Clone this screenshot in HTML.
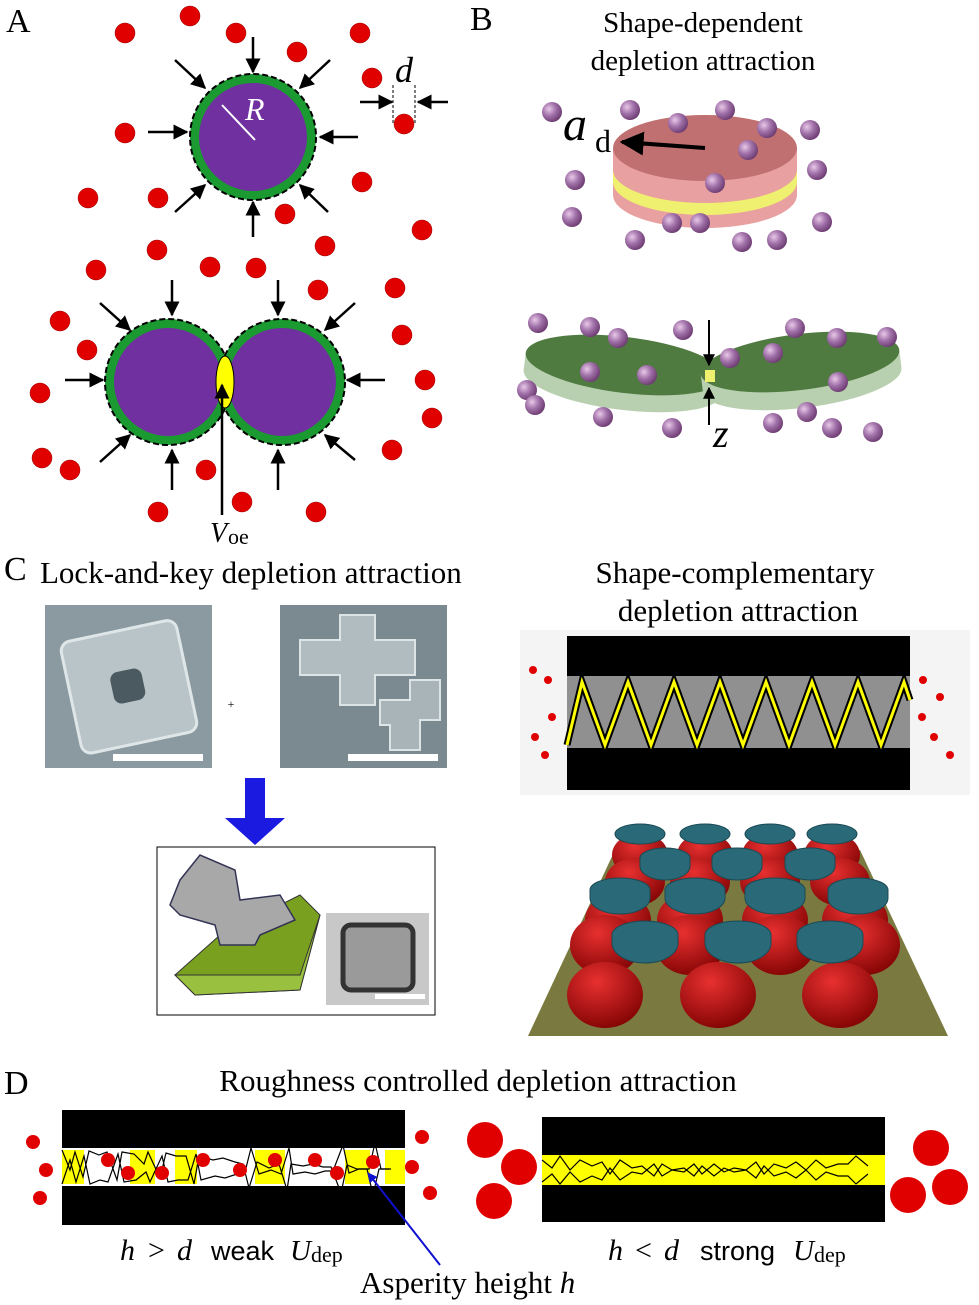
<!DOCTYPE html>
<html><head><meta charset="utf-8"><style>
html,body{margin:0;padding:0;background:#fff}
svg{display:block}
text{font-family:"Liberation Serif",serif;fill:#000}
</style></head><body>
<svg width="979" height="1305" viewBox="0 0 979 1305" xmlns="http://www.w3.org/2000/svg">
<defs>
<marker id="ah" viewBox="0 0 10 10" refX="9" refY="5" markerWidth="6" markerHeight="6" orient="auto"><path d="M0,0L10,5L0,10z" fill="#000"/></marker>
<marker id="ahb" viewBox="0 0 10 10" refX="9" refY="5" markerWidth="5" markerHeight="5" orient="auto"><path d="M0,0L10,5L0,10z" fill="#1010d0"/></marker>
<radialGradient id="pb" cx="0.35" cy="0.35" r="0.7"><stop offset="0" stop-color="#e8c8e8"/><stop offset="0.5" stop-color="#a070a8"/><stop offset="1" stop-color="#6a3a70"/></radialGradient>
<radialGradient id="rh" cx="0.4" cy="0.3" r="0.8"><stop offset="0" stop-color="#e83030"/><stop offset="1" stop-color="#7a0000"/></radialGradient>
</defs>

<!-- Panel A -->
<text x="6" y="32" font-size="34">A</text>
<g fill="#e00000" stroke="#900" stroke-width="0.5">
<circle cx="125" cy="33" r="10"/><circle cx="190" cy="16" r="10"/><circle cx="236" cy="33" r="10"/><circle cx="297" cy="52" r="10"/><circle cx="360" cy="33" r="10"/><circle cx="372" cy="78" r="10"/><circle cx="404" cy="124" r="10"/><circle cx="125" cy="133" r="10"/><circle cx="88" cy="198" r="10"/><circle cx="158" cy="198" r="10"/><circle cx="285" cy="214" r="10"/><circle cx="362" cy="182" r="10"/><circle cx="422" cy="230" r="10"/><circle cx="157" cy="250" r="10"/><circle cx="210" cy="267" r="10"/><circle cx="256" cy="268" r="10"/><circle cx="325" cy="246" r="10"/><circle cx="96" cy="270" r="10"/><circle cx="318" cy="290" r="10"/><circle cx="395" cy="288" r="10"/><circle cx="60" cy="321" r="10"/><circle cx="87" cy="350" r="10"/><circle cx="402" cy="335" r="10"/><circle cx="40" cy="393" r="10"/><circle cx="425" cy="380" r="10"/><circle cx="432" cy="418" r="10"/><circle cx="42" cy="458" r="10"/><circle cx="70" cy="470" r="10"/><circle cx="206" cy="470" r="10"/><circle cx="392" cy="450" r="10"/><circle cx="158" cy="512" r="10"/><circle cx="242" cy="502" r="10"/><circle cx="316" cy="512" r="10"/>
</g>
<circle cx="253" cy="137" r="63" fill="#1a9a30" stroke="#000" stroke-width="2" stroke-dasharray="6,3"/>
<circle cx="253" cy="137" r="54" fill="#7030a0"/>
<line x1="222" y1="105" x2="255" y2="140" stroke="#fff" stroke-width="2"/>
<text x="245" y="120" font-size="32" font-style="italic" style="fill:#fff">R</text>
<g stroke="#000" stroke-width="2.5" marker-end="url(#ah)">
<line x1="253" y1="37" x2="253" y2="72"/><line x1="253" y1="237" x2="253" y2="202"/>
<line x1="148" y1="132" x2="187" y2="132"/><line x1="358" y1="137" x2="320" y2="137"/>
<line x1="175" y1="60" x2="205" y2="88"/><line x1="330" y1="60" x2="300" y2="88"/>
<line x1="175" y1="212" x2="205" y2="185"/><line x1="328" y1="212" x2="300" y2="185"/>
<line x1="360" y1="102" x2="392" y2="102"/><line x1="448" y1="102" x2="418" y2="102"/>
</g>
<line x1="393" y1="85" x2="393" y2="125" stroke="#000" stroke-dasharray="3,2"/>
<line x1="415" y1="85" x2="415" y2="125" stroke="#000" stroke-dasharray="3,2"/>
<text x="395" y="82" font-size="36" font-style="italic">d</text>

<circle cx="168" cy="382" r="63" fill="#1a9a30" stroke="#000" stroke-width="2" stroke-dasharray="6,3"/>
<circle cx="282" cy="382" r="63" fill="#1a9a30" stroke="#000" stroke-width="2" stroke-dasharray="6,3"/>
<circle cx="168" cy="382" r="54" fill="#7030a0"/>
<circle cx="282" cy="382" r="54" fill="#7030a0"/>
<ellipse cx="225" cy="382" rx="9" ry="26" fill="#ffff00" stroke="#000"/>
<g stroke="#000" stroke-width="2.5" marker-end="url(#ah)">
<line x1="172" y1="280" x2="172" y2="315"/><line x1="278" y1="280" x2="278" y2="315"/>
<line x1="172" y1="490" x2="172" y2="450"/><line x1="278" y1="490" x2="278" y2="450"/>
<line x1="65" y1="380" x2="103" y2="380"/><line x1="385" y1="380" x2="347" y2="380"/>
<line x1="100" y1="303" x2="130" y2="330"/><line x1="355" y1="303" x2="325" y2="330"/>
<line x1="100" y1="462" x2="130" y2="435"/><line x1="355" y1="460" x2="325" y2="435"/>
<line x1="222" y1="515" x2="222" y2="385"/>
</g>
<text x="210" y="542" font-size="28" font-style="italic">V</text><text x="228" y="544" font-size="22">oe</text>

<!-- Panel B -->
<text x="470" y="30" font-size="34">B</text>
<text x="703" y="32" font-size="29" text-anchor="middle">Shape-dependent</text>
<text x="703" y="70" font-size="29" text-anchor="middle">depletion attraction</text>
<path d="M613,148 L613,195 A92,33 0 0 0 797,195 L797,148 Z" fill="#e8a0a0"/>
<path d="M613,170 L613,182 A92,33 0 0 0 797,182 L797,170 A92,33 0 0 1 613,170Z" fill="#f0f070"/>
<ellipse cx="705" cy="148" rx="92" ry="33" fill="#c07070"/>
<line x1="705" y1="148" x2="622" y2="142" stroke="#000" stroke-width="4" marker-end="url(#ah)"/>
<text x="563" y="140" font-size="48" font-style="italic">a</text><text x="595" y="152" font-size="32">d</text>
<g transform="rotate(7 625 365)"><path d="M525,365 L525,382 A100,28 0 0 0 725,382 L725,365Z" fill="#b8d0b0"/><ellipse cx="625" cy="365" rx="100" ry="28" fill="#4f7a40"/></g>
<g transform="rotate(-7 800 362)"><path d="M700,362 L700,380 A100,28 0 0 0 900,380 L900,362Z" fill="#b8d0b0"/><ellipse cx="800" cy="362" rx="100" ry="28" fill="#4f7a40"/></g>
<rect x="705" y="370" width="10" height="12" fill="#f0f070"/>
<line x1="709" y1="320" x2="709" y2="365" stroke="#000" stroke-width="2" marker-end="url(#ah)"/>
<line x1="709" y1="425" x2="709" y2="388" stroke="#000" stroke-width="2" marker-end="url(#ah)"/>
<text x="713" y="447" font-size="40" font-style="italic">z</text>
<g fill="url(#pb)">
<circle cx="552" cy="112" r="10"/><circle cx="630" cy="110" r="10"/><circle cx="678" cy="123" r="10"/><circle cx="725" cy="110" r="10"/><circle cx="767" cy="128" r="10"/><circle cx="810" cy="130" r="10"/><circle cx="748" cy="150" r="10"/><circle cx="575" cy="180" r="10"/><circle cx="715" cy="183" r="10"/><circle cx="817" cy="170" r="10"/><circle cx="572" cy="217" r="10"/><circle cx="672" cy="223" r="10"/><circle cx="700" cy="223" r="10"/><circle cx="635" cy="240" r="10"/><circle cx="742" cy="242" r="10"/><circle cx="777" cy="240" r="10"/><circle cx="822" cy="222" r="10"/>
<circle cx="538" cy="323" r="10"/><circle cx="590" cy="327" r="10"/><circle cx="618" cy="338" r="10"/><circle cx="683" cy="330" r="10"/><circle cx="795" cy="328" r="10"/><circle cx="837" cy="338" r="10"/><circle cx="887" cy="337" r="10"/><circle cx="590" cy="372" r="10"/><circle cx="647" cy="375" r="10"/><circle cx="730" cy="358" r="10"/><circle cx="773" cy="353" r="10"/><circle cx="838" cy="382" r="10"/><circle cx="527" cy="390" r="10"/><circle cx="535" cy="405" r="10"/><circle cx="603" cy="417" r="10"/><circle cx="672" cy="428" r="10"/><circle cx="773" cy="423" r="10"/><circle cx="807" cy="412" r="10"/><circle cx="832" cy="428" r="10"/><circle cx="873" cy="432" r="10"/>
</g>

<!-- Panel C -->
<text x="4" y="580" font-size="34">C</text>
<text x="40" y="583" font-size="31">Lock-and-key depletion attraction</text>
<rect x="45" y="605" width="167" height="163" fill="#8a9aa0"/>
<g transform="rotate(-12 128 687)"><rect x="70" y="630" width="118" height="114" rx="10" fill="#b8c4c8" stroke="#dfe6e8" stroke-width="3"/><rect x="112" y="670" width="32" height="32" rx="8" fill="#4a5a60"/></g>
<rect x="113" y="754" width="90" height="7" fill="#fff"/>
<rect x="280" y="605" width="167" height="163" fill="#7a8a90"/>
<path d="M300,640 h40 v-25 h35 v25 h40 v35 h-40 v30 h-35 v-30 h-40z" fill="#b0bcc0" stroke="#dde4e6" stroke-width="2"/>
<path d="M380,700 h30 v-20 h30 v40 h-20 v30 h-30 v-25 h-10z" fill="#a8b4b8" stroke="#dde4e6" stroke-width="2"/>
<rect x="348" y="754" width="90" height="7" fill="#fff"/>
<text x="231" y="708" font-size="12" text-anchor="middle">+</text>
<rect x="245" y="778" width="20" height="42" fill="#1a1ae0"/>
<path d="M225,818 L285,818 L255,845Z" fill="#1a1ae0"/>
<rect x="157" y="847" width="278" height="168" fill="#fff" stroke="#000"/>
<path d="M175,975 L195,995 L300,990 L320,915 L300,895 L220,935Z" fill="#7aa020" stroke="#333"/>
<path d="M175,975 L300,975 L320,915 L300,990 L195,995Z" fill="#9ac040" stroke="#333"/>
<path d="M180,880 L200,855 L235,870 L240,900 L280,895 L295,920 L260,935 L255,945 L220,945 L215,925 L180,915 L170,905Z" fill="#a8a8a8" stroke="#335" stroke-width="1.5"/>
<rect x="326" y="913" width="103" height="92" fill="#c8c8c8"/>
<rect x="343" y="925" width="70" height="65" rx="8" fill="#9a9a9a" stroke="#333" stroke-width="5"/>
<rect x="375" y="994" width="50" height="5" fill="#fff"/>

<text x="735" y="583" font-size="31" text-anchor="middle">Shape-complementary</text>
<text x="738" y="621" font-size="31" text-anchor="middle">depletion attraction</text>
<rect x="520" y="630" width="450" height="165" fill="#f4f4f4"/>
<rect x="567" y="636" width="343" height="154" fill="#000"/>
<rect x="567" y="676" width="343" height="72" fill="#909090"/>
<polyline points="567,745 582,682 605,745 628,682 651,745 674,682 697,745 720,682 743,745 766,682 789,745 812,682 835,745 858,682 881,745 904,682 910,700" fill="none" stroke="#000" stroke-width="7"/>
<polyline points="567,745 582,682 605,745 628,682 651,745 674,682 697,745 720,682 743,745 766,682 789,745 812,682 835,745 858,682 881,745 904,682 910,700" fill="none" stroke="#ffff00" stroke-width="3"/>
<g fill="#e00000"><circle cx="533" cy="670" r="4"/><circle cx="548" cy="680" r="4"/><circle cx="552" cy="717" r="4"/><circle cx="535" cy="737" r="4"/><circle cx="545" cy="755" r="4"/><circle cx="923" cy="680" r="4"/><circle cx="940" cy="697" r="4"/><circle cx="922" cy="717" r="4"/><circle cx="934" cy="737" r="4"/><circle cx="950" cy="755" r="4"/></g>
<path d="M528,1036 L948,1036 L860,850 L615,850Z" fill="#7a7a40"/>
<g fill="url(#rh)">
<ellipse cx="640" cy="855" rx="28" ry="22"/><ellipse cx="705" cy="855" rx="28" ry="22"/><ellipse cx="770" cy="855" rx="28" ry="22"/><ellipse cx="832" cy="855" rx="28" ry="22"/>
<ellipse cx="635" cy="882" rx="30" ry="24"/><ellipse cx="700" cy="882" rx="30" ry="24"/><ellipse cx="770" cy="882" rx="30" ry="24"/><ellipse cx="840" cy="882" rx="30" ry="24"/>
<ellipse cx="618" cy="920" rx="33" ry="27"/><ellipse cx="690" cy="920" rx="33" ry="27"/><ellipse cx="775" cy="920" rx="33" ry="27"/><ellipse cx="855" cy="920" rx="33" ry="27"/>
<ellipse cx="605" cy="945" rx="35" ry="30"/><ellipse cx="690" cy="945" rx="35" ry="30"/><ellipse cx="780" cy="945" rx="35" ry="30"/><ellipse cx="865" cy="945" rx="35" ry="30"/>
<ellipse cx="605" cy="995" rx="38" ry="33"/><ellipse cx="718" cy="995" rx="38" ry="33"/><ellipse cx="840" cy="995" rx="38" ry="33"/>
</g>
<g fill="#2a6a78" stroke="#1a4a55">
<ellipse cx="640" cy="834" rx="25" ry="10"/><ellipse cx="705" cy="834" rx="25" ry="10"/><ellipse cx="770" cy="834" rx="25" ry="10"/><ellipse cx="832" cy="834" rx="25" ry="10"/>
<path d="M640,858 a25,10 0 0 1 50,0 v8 a25,14 0 0 1 -50,0z"/><path d="M712,858 a25,10 0 0 1 50,0 v8 a25,14 0 0 1 -50,0z"/><path d="M785,858 a25,10 0 0 1 50,0 v8 a25,14 0 0 1 -50,0z"/>
<path d="M590,890 a30,12 0 0 1 60,0 v8 a30,16 0 0 1 -60,0z"/><path d="M665,890 a30,12 0 0 1 60,0 v8 a30,16 0 0 1 -60,0z"/><path d="M745,890 a30,12 0 0 1 60,0 v8 a30,16 0 0 1 -60,0z"/><path d="M828,890 a30,12 0 0 1 60,0 v8 a30,16 0 0 1 -60,0z"/>
<path d="M612,935 a33,14 0 0 1 66,0 v8 a33,20 0 0 1 -66,0z"/><path d="M705,935 a33,14 0 0 1 66,0 v8 a33,20 0 0 1 -66,0z"/><path d="M797,935 a33,14 0 0 1 66,0 v8 a33,20 0 0 1 -66,0z"/>
</g>

<!-- Panel D -->
<text x="4" y="1094" font-size="34">D</text>
<text x="478" y="1091" font-size="31" text-anchor="middle">Roughness controlled depletion attraction</text>
<rect x="62" y="1110" width="343" height="115" fill="#000"/>
<rect x="62" y="1148" width="343" height="38" fill="#fff"/>
<g fill="#ffff00">
<rect x="62" y="1150" width="22" height="34"/><rect x="130" y="1150" width="25" height="34"/><rect x="175" y="1150" width="22" height="34"/><rect x="255" y="1150" width="30" height="34"/><rect x="345" y="1150" width="25" height="34"/><rect x="385" y="1150" width="20" height="34"/>
</g>
<path d="M62,1150 l8,20 5,-18 8,25 6,-26 10,4 8,-3 10,28 5,-28 12,2 10,10 4,-12 12,26 6,-25 10,3 10,0 8,28 5,-28 14,4 10,-2 12,4 8,2 6,24 8,-26 12,6 10,-4 8,26 4,-26 12,2 10,-2 10,3 8,0 10,26 6,-28 10,4 10,0 6,26 6,-26 10,0" fill="none" stroke="#000" stroke-width="1.2"/>
<path d="M62,1184 l8,-24 6,22 8,-26 6,28 10,-4 8,2 10,-28 6,28 12,-2 10,-8 4,10 12,-26 6,26 10,-2 10,0 8,-26 5,26 14,-4 10,2 12,-4 8,-2 6,-24 8,26 12,-4 10,4 8,-26 4,26 12,-2 10,2 10,-3 8,0 10,-26 6,28 10,-4 10,0 6,-26 6,26 10,0" fill="none" stroke="#000" stroke-width="1.2"/>
<g fill="#e00000">
<circle cx="33" cy="1142" r="7"/><circle cx="46" cy="1170" r="7"/><circle cx="40" cy="1198" r="7"/><circle cx="108" cy="1160" r="7"/><circle cx="128" cy="1173" r="7"/><circle cx="162" cy="1173" r="7"/><circle cx="203" cy="1160" r="7"/><circle cx="240" cy="1170" r="7"/><circle cx="275" cy="1160" r="7"/><circle cx="315" cy="1160" r="7"/><circle cx="337" cy="1173" r="7"/><circle cx="373" cy="1162" r="7"/><circle cx="422" cy="1137" r="7"/><circle cx="412" cy="1167" r="7"/><circle cx="430" cy="1193" r="7"/>
<circle cx="485" cy="1140" r="18"/><circle cx="519" cy="1167" r="18"/><circle cx="494" cy="1201" r="18"/><circle cx="931" cy="1148" r="18"/><circle cx="950" cy="1187" r="18"/><circle cx="908" cy="1195" r="18"/>
</g>
<rect x="542" y="1117" width="343" height="105" fill="#000"/>
<rect x="542" y="1155" width="343" height="30" fill="#ffff00"/>
<path d="M542,1160 l10,8 8,-12 10,14 10,-10 12,6 10,-4 8,12 10,-14 12,8 10,-2 12,10 8,-12 10,6 12,-2 10,8 8,-10 12,10 10,-8 10,4 12,-2 10,8 8,-12 10,10 12,-4 10,6 10,-8 10,10 10,-8 12,4 10,0 8,8 12,-10" fill="none" stroke="#000" stroke-width="1.2"/>
<path d="M542,1182 l10,-8 8,10 10,-12 10,10 12,-6 10,4 8,-12 10,12 12,-8 10,2 12,-10 8,12 10,-6 12,2 10,-8 8,10 12,-10 10,8 10,-4 12,2 10,-8 8,12 10,-10 12,4 10,-6 10,8 10,-10 10,8 12,-4 10,0 8,-8 12,10" fill="none" stroke="#000" stroke-width="1.2"/>
<line x1="440" y1="1265" x2="368" y2="1173" stroke="#1010d0" stroke-width="2" marker-end="url(#ahb)"/>
<text x="120" y="1260" font-size="30" font-style="italic">h</text><text x="148" y="1260" font-size="30">&gt;</text><text x="177" y="1260" font-size="30" font-style="italic">d</text>
<text x="211" y="1260" font-size="27" style="font-family:'Liberation Sans',sans-serif">weak</text>
<text x="290" y="1260" font-size="29" font-style="italic">U</text><text x="311" y="1262" font-size="22">dep</text>
<text x="608" y="1260" font-size="30" font-style="italic">h</text><text x="635" y="1260" font-size="30">&lt;</text><text x="664" y="1260" font-size="30" font-style="italic">d</text>
<text x="700" y="1260" font-size="27" style="font-family:'Liberation Sans',sans-serif">strong</text>
<text x="793" y="1260" font-size="29" font-style="italic">U</text><text x="814" y="1262" font-size="22">dep</text>
<text x="360" y="1293" font-size="31">Asperity height <tspan font-style="italic">h</tspan></text>
</svg>
</body></html>
